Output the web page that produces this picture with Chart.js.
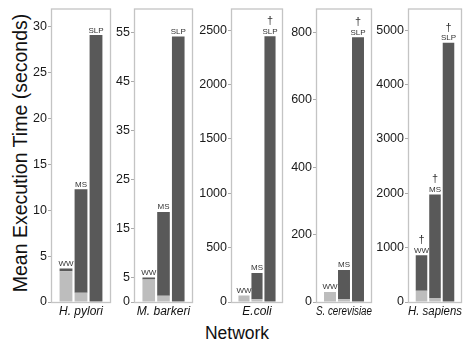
<!DOCTYPE html>
<html>
<head>
<meta charset="utf-8">
<script src="https://cdn.jsdelivr.net/npm/chart.js@4.4.1/dist/chart.umd.min.js"></script>
<style>
    body { margin: 0; background: #fff; }
    #figura { position: relative; width: 474px; height: 352px; overflow: hidden; font-family: Arial, "Liberation Sans", sans-serif; color: #111; }
    #figura canvas { position: absolute; top: 0; }
    .tituloY { position: absolute; left: 20px; top: 153px; transform: translate(-50%, -50%) rotate(-90deg); white-space: nowrap; font-size: 19.5px; }
    .tituloX { position: absolute; left: 237px; top: 333px; transform: translate(-50%, -50%); white-space: nowrap; font-size: 17.5px; }
</style>
</head>
<body>
<div id="figura">
    <div class="tituloY">Mean Execution Time (seconds)</div>
    <div class="tituloX">Network</div>
</div>
<script>
// Dados
const metodos = ['WW', 'MS', 'SLP'];
const redes = ['H. pylori', 'M. barkeri', 'E.coli', 'S. cerevisiae', 'H. sapiens'];

// Tempo total (s) de cada método, por rede
const tempoTotalWW = [3.65, 5.0, 60, 30, 860];
const tempoTotalMS = [12.3, 18.4, 267, 95, 1980];
const tempoTotalSLP = [29.1, 54.3, 2445, 785, 4770];

// Parte clara (base) de cada barra
const parteClaraWW = [3.35, 4.6, 60, 30, 205];
const parteClaraMS = [1.0, 1.3, 25, 8, 75];
const parteClaraSLP = [0, 0, 0, 0, 0];

// Marcas "†" acima das barras
const marcadoWW = [false, false, false, false, true];
const marcadoMS = [false, false, false, false, true];
const marcadoSLP = [false, false, true, true, true];

// Eixo y de cada painel
const maximoEixo = [32, 60, 2700, 870, 5400];
const ticksHPylori = [0, 5, 10, 15, 20, 25, 30];
const ticksMBarkeri = [0, 5, 15, 25, 35, 45, 55];
const ticksEColi = [0, 500, 1000, 1500, 2000, 2500];
const ticksSCerevisiae = [0, 200, 400, 600, 800];
const ticksHSapiens = [0, 1000, 2000, 3000, 4000, 5000];
const ticksPorRede = [ticksHPylori, ticksMBarkeri, ticksEColi, ticksSCerevisiae, ticksHSapiens];

// Posição das caixas (esquerda, direita) de cada painel
const caixas = [[51, 111], [134, 193], [231, 283], [316, 372], [408, 462]];
const larguraEixoY = 36;

const corClara = '#bdbdbd';
const corEscura = '#595959';

// Categorias vazias nas pontas deixam a margem dentro da moldura
const categorias = ['', ...metodos, ''];

// Desenha a moldura e os rótulos acima das barras
const pluginMoldura = {
    id: 'moldura',
    afterDatasetsDraw(chart) {
        const { ctx, chartArea } = chart;
        const r = chart.options.plugins.moldura.rede;
        const marcados = [marcadoWW[r], marcadoMS[r], marcadoSLP[r]];

        ctx.save();
        ctx.strokeStyle = '#c4c4c4';
        ctx.lineWidth = 1.3;
        ctx.strokeRect(chartArea.left + 0.5, chartArea.top + 0.5,
            chartArea.right - chartArea.left - 1, chartArea.bottom - chartArea.top);

        const meta = chart.getDatasetMeta(1);
        ctx.textAlign = 'center';
        ctx.textBaseline = 'alphabetic';
        metodos.forEach((metodo, i) => {
            const barra = meta.data[i + 1];
            ctx.fillStyle = '#333';
            ctx.font = '8px "Liberation Sans Narrow", Arial, sans-serif';
            ctx.fillText(metodo, barra.x, barra.y - 2.5);
            if (marcados[i]) {
                ctx.font = '11px Arial, sans-serif';
                ctx.fillText('†', barra.x, barra.y - 12);
            }
        });
        ctx.restore();
    }
};

function gerarPainel(r) {
    const [esq, dir] = caixas[r];
    const canvas = document.createElement('canvas');
    const largura = (dir - esq) + larguraEixoY + 1;
    canvas.width = largura;
    canvas.height = 352;
    canvas.style.left = (esq - larguraEixoY) + 'px';
    canvas.style.width = largura + 'px';
    canvas.style.height = '352px';
    document.getElementById('figura').appendChild(canvas);

    const totais = [tempoTotalWW[r], tempoTotalMS[r], tempoTotalSLP[r]];
    const claras = [parteClaraWW[r], parteClaraMS[r], parteClaraSLP[r]];

    const dadosClaros = [null, ...claras, null];
    const dadosEscuros = [null, ...totais.map((v, i) => v - claras[i]), null];

    new Chart(canvas.getContext('2d'), {
        type: 'bar',
        data: {
            labels: categorias,
            datasets: [
                { data: dadosClaros, backgroundColor: corClara, borderWidth: 0, barPercentage: 0.95, categoryPercentage: 0.9 },
                { data: dadosEscuros, backgroundColor: corEscura, borderWidth: 0, barPercentage: 0.95, categoryPercentage: 0.9 }
            ]
        },
        plugins: [pluginMoldura],
        options: {
            responsive: false,
            animation: false,
            layout: { padding: { top: 8, right: 1, bottom: 33, left: 0 } },
            plugins: {
                legend: { display: false },
                tooltip: { enabled: false },
                moldura: { rede: r }
            },
            scales: {
                x: {
                    stacked: true,
                    offset: false,
                    ticks: { display: false },
                    grid: { display: false, offset: false },
                    border: { display: false },
                    title: {
                        display: true,
                        text: redes[r],
                        color: '#111',
                        font: { family: 'Arial, "Liberation Sans", sans-serif', size: 12, style: 'italic' },
                        padding: { top: 2, bottom: 0 }
                    },
                    afterFit: (escala) => { escala.height = 17; }
                },
                y: {
                    stacked: true,
                    min: 0,
                    max: maximoEixo[r],
                    afterBuildTicks: (escala) => {
                        escala.ticks = ticksPorRede[r].map(v => ({ value: v }));
                    },
                    afterFit: (escala) => { escala.width = larguraEixoY; },
                    ticks: {
                        color: '#1a1a1a',
                        padding: 1,
                        font: { family: 'Arial, "Liberation Sans", sans-serif', size: 12.5 },
                        callback: (v) => String(v)
                    },
                    grid: { drawOnChartArea: false, drawTicks: true, tickLength: 3, color: '#aaa' },
                    border: { display: false }
                }
            }
        }
    });
}

redes.forEach((rede, r) => gerarPainel(r));
</script>
</body>
</html>
